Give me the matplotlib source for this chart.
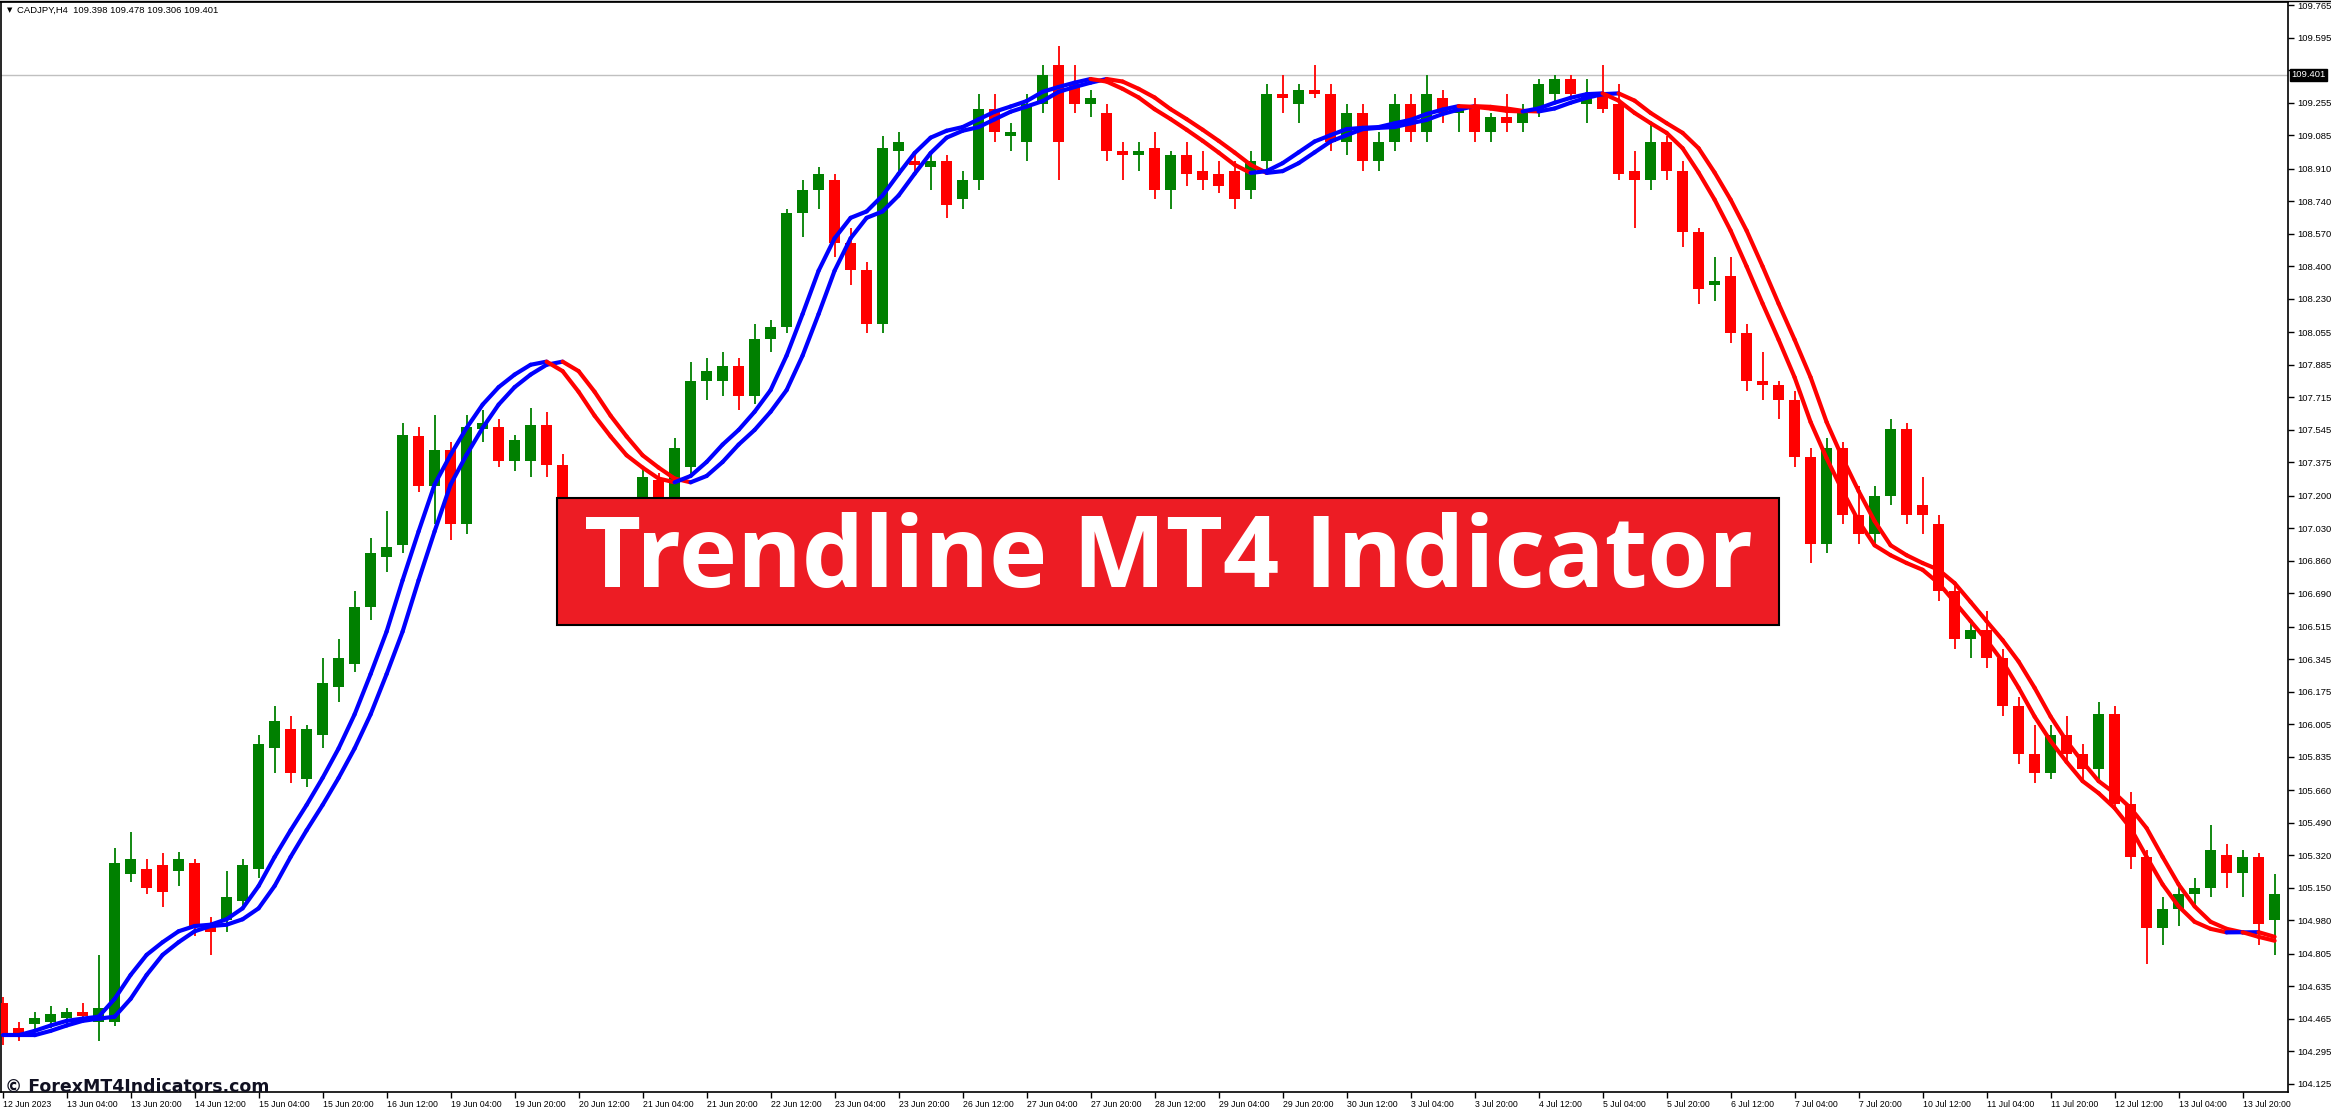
import matplotlib
matplotlib.use('Agg')
import matplotlib.pyplot as plt
import numpy as np
from matplotlib.collections import LineCollection
from matplotlib.patches import Rectangle

# ---------------- data (CADJPY H4) ----------------
opens = [104.55,104.42,104.44,104.45,104.47,104.50,104.45,104.45,105.22,105.25,
         105.27,105.24,105.28,104.95,104.98,105.08,105.25,105.88,105.98,105.72,
         105.95,106.20,106.32,106.62,106.88,106.94,107.51,107.25,107.44,107.05,
         107.55,107.56,107.38,107.38,107.57,107.36,107.00,106.85,106.95,107.10,
         107.05,107.28,107.15,107.35,107.80,107.80,107.88,107.72,108.02,108.08,
         108.68,108.80,108.85,108.52,108.38,108.10,109.00,108.95,108.92,108.95,
         108.75,108.85,109.22,109.08,109.05,109.25,109.45,109.35,109.25,109.20,
         109.00,108.98,109.02,108.80,108.98,108.90,108.88,108.90,108.80,108.95,
         109.30,109.25,109.32,109.30,109.05,109.20,108.95,109.05,109.25,109.10,
         109.28,109.20,109.22,109.10,109.18,109.15,109.22,109.30,109.38,109.25,
         109.30,109.25,108.90,108.85,109.05,108.90,108.58,108.30,108.35,108.05,
         107.80,107.78,107.70,107.40,106.95,107.45,107.10,107.00,107.20,107.55,
         107.15,107.05,106.70,106.45,106.50,106.35,106.10,105.85,105.75,105.95,
         105.85,105.77,106.06,105.59,105.31,104.94,105.04,105.12,105.15,105.32,
         105.23,105.31,104.98]
highs = [104.58,104.45,104.50,104.53,104.52,104.55,104.80,105.36,105.44,105.30,
         105.33,105.34,105.30,105.00,105.24,105.30,105.95,106.10,106.05,106.00,
         106.35,106.45,106.70,106.98,107.12,107.58,107.56,107.62,107.48,107.62,
         107.65,107.60,107.52,107.66,107.64,107.42,107.08,107.00,107.15,107.18,
         107.35,107.32,107.50,107.90,107.92,107.95,107.92,108.10,108.12,108.70,
         108.85,108.92,108.88,108.60,108.42,109.08,109.10,109.00,109.00,108.98,
         108.90,109.30,109.30,109.15,109.30,109.45,109.55,109.45,109.32,109.25,
         109.05,109.05,109.10,109.00,109.05,109.00,108.95,108.95,109.00,109.35,
         109.40,109.35,109.45,109.35,109.25,109.25,109.10,109.30,109.30,109.40,
         109.32,109.25,109.28,109.20,109.30,109.25,109.38,109.40,109.40,109.38,
         109.45,109.35,109.00,109.15,109.08,108.95,108.60,108.45,108.45,108.10,
         107.95,107.80,107.75,107.45,107.50,107.48,107.25,107.25,107.60,107.58,
         107.30,107.10,106.75,106.55,106.60,106.40,106.15,106.00,106.00,106.05,
         105.90,106.12,106.10,105.65,105.35,105.10,105.18,105.20,105.48,105.38,
         105.35,105.33,105.22]
lows = [104.33,104.35,104.40,104.42,104.44,104.45,104.35,104.43,105.18,105.12,
        105.05,105.16,104.90,104.80,104.92,105.04,105.20,105.75,105.70,105.68,
        105.88,106.12,106.28,106.55,106.80,106.90,107.22,107.05,106.97,107.00,
        107.48,107.35,107.33,107.30,107.30,106.95,106.80,106.75,106.90,106.98,
        107.00,107.05,107.10,107.30,107.70,107.72,107.65,107.68,107.95,108.05,
        108.55,108.70,108.45,108.30,108.05,108.05,108.90,108.88,108.80,108.65,
        108.70,108.80,109.05,109.00,108.95,109.20,108.85,109.20,109.18,108.95,
        108.85,108.90,108.75,108.70,108.82,108.80,108.78,108.70,108.75,108.90,
        109.20,109.15,109.28,109.00,108.98,108.90,108.90,109.00,109.05,109.05,
        109.15,109.10,109.05,109.05,109.10,109.10,109.18,109.25,109.28,109.15,
        109.20,108.85,108.60,108.80,108.85,108.50,108.20,108.22,108.00,107.75,
        107.70,107.60,107.35,106.85,106.90,107.05,106.95,106.95,107.15,107.05,
        107.00,106.65,106.40,106.35,106.30,106.05,105.80,105.70,105.72,105.80,
        105.70,105.72,105.55,105.25,104.75,104.85,104.95,105.05,105.10,105.15,
        105.10,104.85,104.80]
closes = [104.38,104.38,104.47,104.49,104.50,104.48,104.52,105.28,105.30,105.15,
          105.13,105.30,104.95,104.92,105.10,105.27,105.90,106.02,105.75,105.98,
          106.22,106.35,106.62,106.90,106.93,107.52,107.25,107.44,107.05,107.56,
          107.58,107.38,107.49,107.57,107.36,107.00,106.85,106.95,107.10,107.05,
          107.30,107.15,107.45,107.80,107.85,107.88,107.72,108.02,108.08,108.68,
          108.80,108.88,108.52,108.38,108.10,109.02,109.05,108.93,108.95,108.72,
          108.85,109.22,109.10,109.10,109.25,109.40,109.05,109.25,109.28,109.00,
          108.98,109.00,108.80,108.98,108.88,108.85,108.82,108.75,108.95,109.30,
          109.28,109.32,109.30,109.05,109.20,108.95,109.05,109.25,109.10,109.30,
          109.20,109.22,109.10,109.18,109.15,109.22,109.35,109.38,109.30,109.30,
          109.22,108.88,108.85,109.05,108.90,108.58,108.28,108.32,108.05,107.80,
          107.78,107.70,107.40,106.95,107.45,107.10,107.00,107.20,107.55,107.10,
          107.10,106.70,106.45,106.50,106.35,106.10,105.85,105.75,105.95,105.85,
          105.77,106.06,105.59,105.31,104.94,105.04,105.12,105.15,105.35,105.23,
          105.31,104.96,105.12]

ytick_values = [109.765,109.595,109.425,109.255,109.085,108.910,108.740,108.570,
                108.400,108.230,108.055,107.885,107.715,107.545,107.375,107.200,
                107.030,106.860,106.690,106.515,106.345,106.175,106.005,105.835,
                105.660,105.490,105.320,105.150,104.980,104.805,104.635,104.465,
                104.295,104.125]
ytick_labels = ["%.3f" % v for v in ytick_values]

xtick_labels = ["12 Jun 2023","13 Jun 04:00","13 Jun 20:00","14 Jun 12:00","15 Jun 04:00",
                "15 Jun 20:00","16 Jun 12:00","19 Jun 04:00","19 Jun 20:00","20 Jun 12:00",
                "21 Jun 04:00","21 Jun 20:00","22 Jun 12:00","23 Jun 04:00","23 Jun 20:00",
                "26 Jun 12:00","27 Jun 04:00","27 Jun 20:00","28 Jun 12:00","29 Jun 04:00",
                "29 Jun 20:00","30 Jun 12:00","3 Jul 04:00","3 Jul 20:00","4 Jul 12:00",
                "5 Jul 04:00","5 Jul 20:00","6 Jul 12:00","7 Jul 04:00","7 Jul 20:00",
                "10 Jul 12:00","11 Jul 04:00","11 Jul 20:00","12 Jul 12:00","13 Jul 04:00",
                "13 Jul 20:00"]
xtick_bars = list(range(0, 4 * len(xtick_labels), 4))

header = "CADJPY,H4  109.398 109.478 109.306 109.401"
last_price = 109.401
title_text = "Trendline MT4 Indicator"
watermark = "© ForexMT4Indicators.com"

# ---------------- figure ----------------
W, H = 2331, 1113
fig = plt.figure(figsize=(W / 100, H / 100), dpi=100)
fig.patch.set_facecolor('white')
ax_left, ax_right, ax_top, ax_bot = 1, 2288, 2, 1092
ax = fig.add_axes([ax_left / W, 1 - ax_bot / H, (ax_right - ax_left) / W, (ax_bot - ax_top) / H])
n = len(closes)
x = np.arange(n)
ax.set_xlim(-0.1, -0.1 + (ax_right - ax_left) / 16.0)
ax.set_ylim(104.083, 109.781)

o = np.array(opens); h = np.array(highs); l = np.array(lows); c = np.array(closes)
up = c >= o
GREEN, RED = '#008000', '#FF0000'
cols = np.where(up, GREEN, RED)
ax.vlines(x, l, h, colors=cols, linewidth=1.3, zorder=2)
body_b = np.minimum(o, c)
body_h = np.maximum(np.abs(c - o), 0.006)
ax.bar(x, body_h, bottom=body_b, width=0.7, color=cols, linewidth=0, zorder=3)

# trend lines: Hull-type moving average of the closes
def wma(s, p):
    s = np.asarray(s, dtype=float)
    out = np.empty(len(s))
    for i in range(len(s)):
        k = min(p, i + 1)
        w = np.arange(1, k + 1, dtype=float)
        out[i] = np.dot(s[i - k + 1:i + 1], w) / w.sum()
    return out

per = 28
line1 = wma(2 * wma(c, per // 2) - wma(c, per), 3)
line2 = np.r_[np.nan, line1[:-1]]

def draw_trend(vals):
    segs, colors = [], []
    for i in range(1, n):
        if np.isnan(vals[i - 1]) or np.isnan(vals[i]):
            continue
        segs.append([(x[i - 1], vals[i - 1]), (x[i], vals[i])])
        colors.append('#0000FF' if vals[i] >= vals[i - 1] else '#FF0000')
    lc = LineCollection(segs, colors=colors, linewidths=3.0, zorder=4, capstyle='round')
    ax.add_collection(lc)

draw_trend(line2)
draw_trend(line1)

# current price line
ax.axhline(last_price, color='#C0C0C0', linewidth=1.0, zorder=1)

# axes styling
for s in ax.spines.values():
    s.set_color('black'); s.set_linewidth(1.2)
ax.yaxis.tick_right()
ax.set_yticks(ytick_values)
ax.set_yticklabels(ytick_labels)
ax.set_xticks(xtick_bars)
ax.set_xticklabels(xtick_labels, ha='left')
ax.tick_params(axis='y', direction='out', length=4, width=1, pad=3, labelsize=6.8,
               labelfontfamily='Liberation Sans')
ax.tick_params(axis='x', direction='out', length=4, width=1, pad=1.5, labelsize=6.3,
               labelfontfamily='Liberation Sans')
for t in ax.get_yticklabels():
    if t.get_text() == "109.425":
        t.set_visible(False)

# price label box on the axis
ax.text(1.0015, last_price, "%.3f" % last_price, transform=ax.get_yaxis_transform(),
        ha='left', va='center', fontsize=6.8, family='Liberation Sans', color='white',
        bbox=dict(boxstyle='square,pad=0.15', facecolor='black', edgecolor='black'),
        zorder=10, clip_on=False)

# header
fig.text(7 / W, 1 - 10 / H, "\u25BC", fontsize=5, family=['DejaVu Sans'], va='center', ha='left')
fig.text(17 / W, 1 - 10 / H, header, fontsize=6.8, family='Liberation Sans', va='center', ha='left')

# top line
fig.add_artist(plt.Line2D([0, 1], [1 - 0.5 / H, 1 - 0.5 / H], color='black', linewidth=1.0))

# banner
bx0, by0, bx1, by1 = 557, 498, 1779, 625
fig.add_artist(Rectangle((bx0 / W, 1 - by1 / H), (bx1 - bx0) / W, (by1 - by0) / H,
                         transform=fig.transFigure, facecolor='#ED1C24', edgecolor='black',
                         linewidth=1.5, zorder=20))
txt = fig.text((bx0 + bx1) / 2 / W, 1 - (by0 + by1) / 2 / H, title_text, color='white',
               fontsize=70, fontweight='bold', family='Open Sans', ha='center', va='center',
               zorder=21)
fig.canvas.draw()
wpx = txt.get_window_extent().width
txt.set_fontsize(70 * 1170 / wpx)

# watermark
fig.text(5 / W, 1 - 1087 / H, watermark, fontsize=12.5, fontweight='bold', family='DejaVu Sans',
         color='#111122', ha='left', va='center', zorder=22)

fig.savefig('out.png', dpi=100, facecolor='white')
